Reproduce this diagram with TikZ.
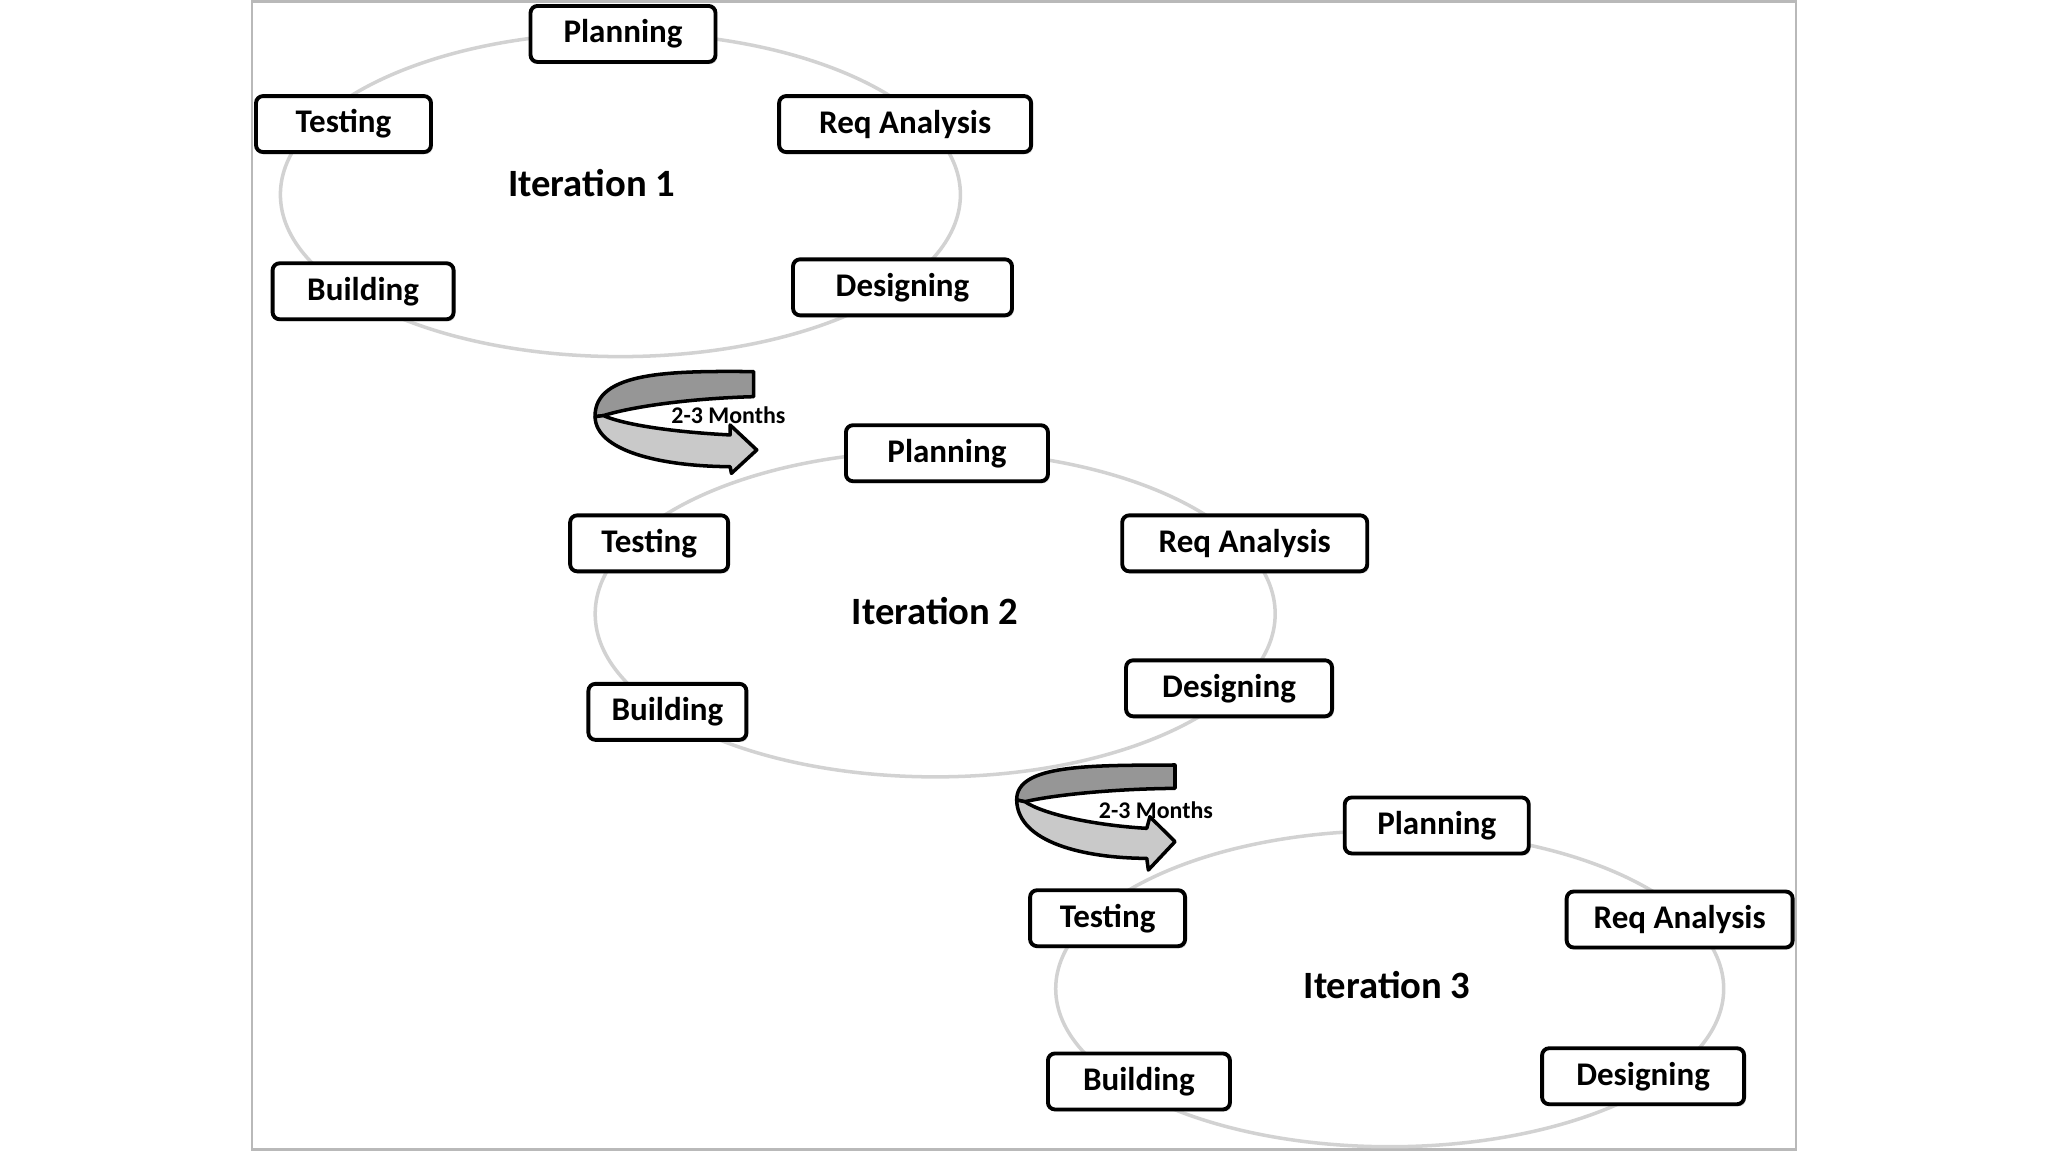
\documentclass[tikz,border=0pt]{standalone}
\usepackage{fontspec}
\setmainfont{Carlito}
\usetikzlibrary{shadows}
\tikzstyle{phase} = [draw=black, fill=white, line width=1.1pt, rectangle, rounded corners=2pt, minimum height=0.56cm, inner xsep=2pt, font=\bfseries\fontsize{9.4}{11}\selectfont, drop shadow={fill=gray!60, shadow xshift=0.5pt, shadow yshift=-0.6pt}]
\tikzstyle{cycle} = [draw=gray!35, line width=1pt]
\tikzstyle{itlabel} = [font=\bfseries\fontsize{11}{13}\selectfont]
\tikzstyle{ribbonback} = [draw=black, line width=1pt, fill=gray!82, line join=round]
\tikzstyle{ribbonfront} = [draw=black, line width=1pt, fill=gray!42, line join=round]
\tikzstyle{duration} = [font=\bfseries\fontsize{6.8}{8}\selectfont, inner sep=0pt]
\begin{document}
\begin{tikzpicture}[x=0.130612mm, y=-0.130612mm]
  \useasboundingbox (0,0) rectangle (1568,882);
  \draw[gray!55, line width=0.8pt] (193,1) rectangle (1375,880);

  % the three cycles
  \draw[cycle] (475,149) ellipse [x radius=3.40cm, y radius=1.62cm];
  \draw[cycle] (716,470) ellipse [x radius=3.40cm, y radius=1.63cm];
  \draw[cycle] (1064,757) ellipse [x radius=3.34cm, y radius=1.58cm];

  % Iteration 1
  \node[phase, minimum width=1.85cm] (plan1) at (477,26) {Planning};
  \node[phase, minimum width=2.52cm] (req1) at (693,95) {Req Analysis};
  \node[phase, minimum width=2.19cm] (des1) at (691,220) {Designing};
  \node[phase, minimum width=1.81cm] (build1) at (278,223) {Building};
  \node[phase, minimum width=1.75cm] (test1) at (263,95) {Testing};
  \node[itlabel] (iter1) at (453,140) {Iteration 1};

  % Iteration 2
  \node[phase, minimum width=2.02cm] (plan2) at (725,347) {Planning};
  \node[phase, minimum width=2.45cm] (req2) at (953,416) {Req Analysis};
  \node[phase, minimum width=2.06cm] (des2) at (941,527) {Designing};
  \node[phase, minimum width=1.58cm] (build2) at (511,545) {Building};
  \node[phase, minimum width=1.58cm] (test2) at (497,416) {Testing};
  \node[itlabel] (iter2) at (716,468) {Iteration 2};

  % Iteration 3
  \node[phase, minimum width=1.84cm] (plan3) at (1100,632) {Planning};
  \node[phase, minimum width=2.26cm] (req3) at (1286,704) {Req Analysis};
  \node[phase, minimum width=2.02cm] (des3) at (1258,824) {Designing};
  \node[phase, minimum width=1.82cm] (build3) at (872,828) {Building};
  \node[phase, minimum width=1.55cm] (test3) at (848,703) {Testing};
  \node[itlabel] (iter3) at (1062,754) {Iteration 3};

  % turning arrows between iterations
  \filldraw[ribbonback] (577,284.5) .. controls (515,284) and (455,284) .. (455.6,319)
    -- (462,318.2) .. controls (485,311) and (530,305) .. (577,303.7) -- cycle;
  \filldraw[ribbonfront] (455.6,319) .. controls (456,345) and (505,357) .. (559,357.3)
    -- (560,362.4) -- (579.4,344.5) -- (559,325.4)
    -- (559,333) .. controls (520,331) and (480,326) .. (462,318.2) -- cycle;
  \node[duration] (months1) at (557.7,317.7) {2-3 Months};

  \filldraw[ribbonback] (899.6,585.7) .. controls (835,586) and (778,585) .. (778.4,612.5)
    -- (784.7,613.8) .. controls (805,609) and (850,604) .. (899.6,603.6) -- cycle;
  \filldraw[ribbonfront] (778.4,612.5) .. controls (779,645) and (830,657) .. (878,657.2)
    -- (879.2,666.1) -- (899.6,644.4) -- (880.4,625.3)
    -- (878,634.2) .. controls (840,632) and (800,624) .. (784.7,613.8) -- cycle;
  \node[duration] (months2) at (885,620) {2-3 Months};
\end{tikzpicture}
\end{document}
